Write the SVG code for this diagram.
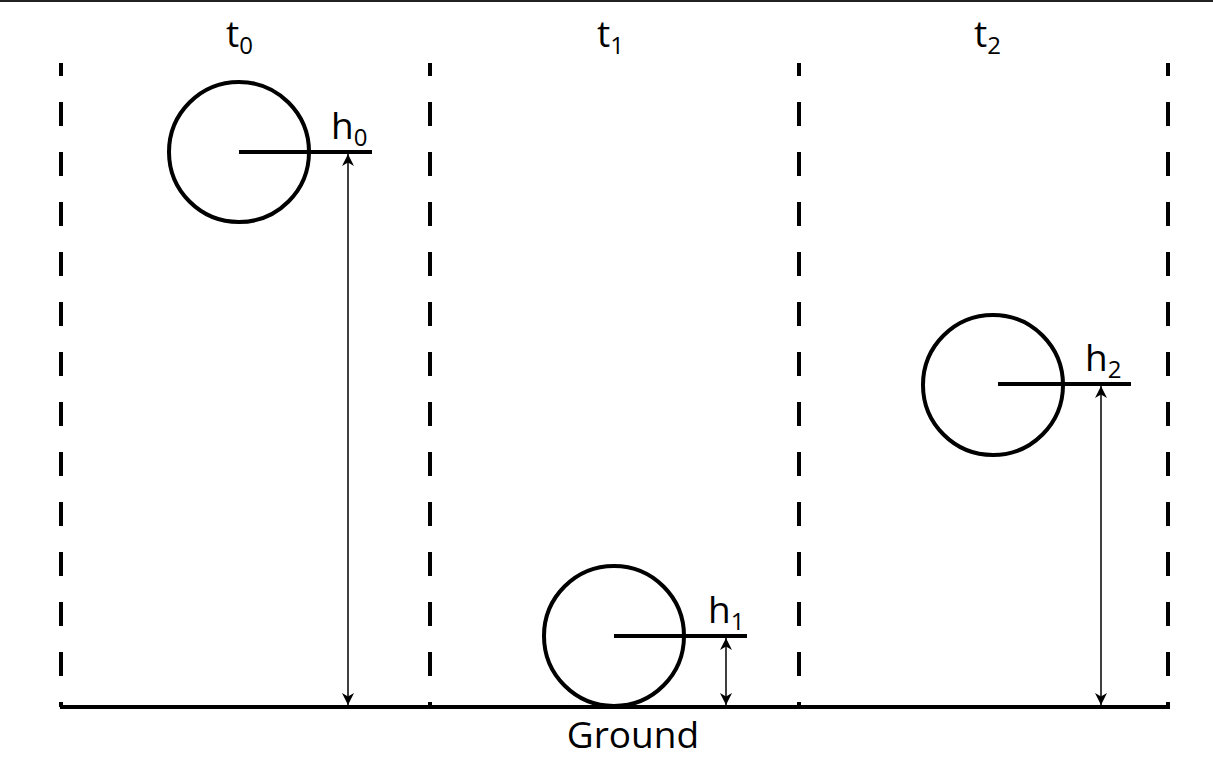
<svg xmlns="http://www.w3.org/2000/svg" width="1213" height="762" viewBox="0 0 1213 762">
<defs>
<style>
.dash{stroke:#000;stroke-width:4;stroke-dasharray:24 26;stroke-dashoffset:11}
.ball{fill:none;stroke:#000;stroke-width:4}
.lvl{stroke:#000;stroke-width:4}
.dim{stroke:#000;stroke-width:1.5;marker-start:url(#ah);marker-end:url(#ah)}
text{font-family:"Open Sans","Liberation Sans",sans-serif;font-size:37px;fill:#000}
.sub{font-size:24px}
</style>
<marker id="ah" viewBox="0 0 10 10" refX="10" refY="5" markerWidth="14" markerHeight="12" markerUnits="userSpaceOnUse" orient="auto-start-reverse"><path d="M0,0 L10,5 L0,10 L3,5 Z" fill="#000"/></marker>
</defs>
<rect width="1213" height="762" fill="#fff"/>
<line x1="0" y1="1" x2="1213" y2="1" stroke="#222" stroke-width="2"/>
<g id="dividers">
<line class="dash" x1="61" y1="63" x2="61" y2="707"/>
<line class="dash" x1="430" y1="63" x2="430" y2="707"/>
<line class="dash" x1="799" y1="63" x2="799" y2="707"/>
<line class="dash" x1="1168" y1="63" x2="1168" y2="707"/>
</g>
<g id="ground"><line x1="60" y1="707" x2="1170" y2="707" stroke="#000" stroke-width="4"/>
<text x="633" y="748" text-anchor="middle">Ground</text></g>
<g id="t0"><text x="226" y="47">t<tspan class="sub" dy="7">0</tspan></text>
<circle class="ball" cx="239" cy="152" r="70"/><line class="lvl" x1="239" y1="152" x2="372" y2="152"/>
<text x="331" y="139">h<tspan class="sub" dy="7">0</tspan></text></g>
<g id="t1"><text x="597" y="47">t<tspan class="sub" dy="7">1</tspan></text>
<circle class="ball" cx="614" cy="636" r="70"/><line class="lvl" x1="614" y1="636" x2="747" y2="636"/>
<text x="708" y="623">h<tspan class="sub" dy="7">1</tspan></text></g>
<g id="t2"><text x="974" y="47">t<tspan class="sub" dy="7">2</tspan></text>
<circle class="ball" cx="993" cy="385" r="70"/><line class="lvl" x1="998" y1="384" x2="1131" y2="384"/>
<text x="1085" y="371">h<tspan class="sub" dy="7">2</tspan></text></g>
<g id="connectors">
<line class="dim" x1="348" y1="154" x2="348" y2="705"/>
<line class="dim" x1="726" y1="638" x2="726" y2="705"/>
<line class="dim" x1="1101" y1="386" x2="1101" y2="705"/>
</g>
</svg>
